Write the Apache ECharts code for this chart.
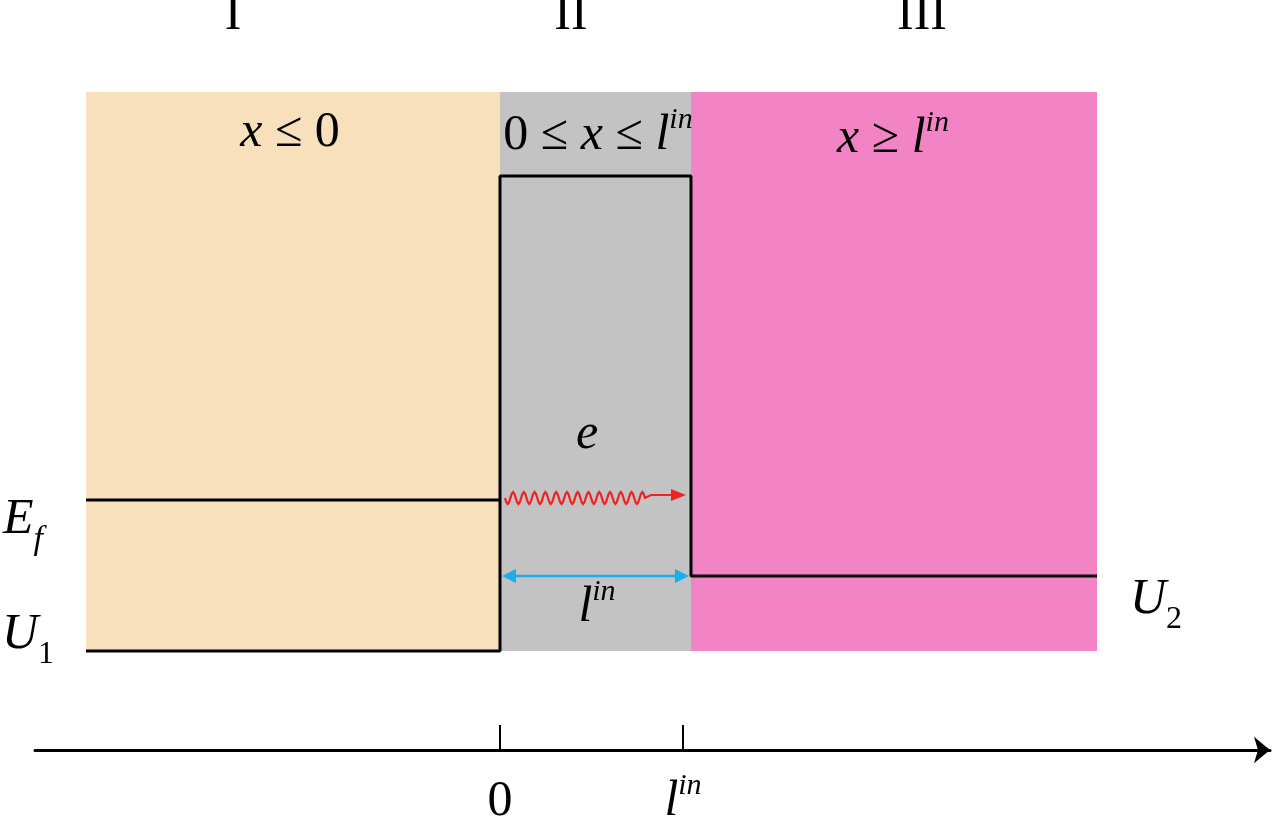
<!DOCTYPE html>
<html>
<head>
<meta charset="utf-8">
<script src="https://cdn.jsdelivr.net/npm/echarts@6/dist/echarts.min.js"></script>
<style>html,body{margin:0;padding:0;background:#fff;}#chart{width:1280px;height:827px;}</style>
</head>
<body>
<div id="chart"></div>
<script>
// ---- data (x: distance from the interface, y: energy, arbitrary units) ----
const regionNames = ['I', 'II', 'III'];
const regionStart = [-414, 0, 191];
const regionEnd = [0, 191, 597];
const regionBottom = 99;
const regionTop = 658;
const potentialLine = [[-414, 99], [0, 99], [0, 574], [191, 574], [191, 174], [597, 174]];
const fermiLine = [[-414, 250], [0, 250]];
const electronPath = [5, 145, 186, 253];   // wave start, wave end, arrow tip, level
const widthArrow = [2, 189, 174];          // from, to, level
const xTickValues = [0, 183];
const xTickLabels = ['{n|0}', '{i|l}{s|in}'];
const annotationText = ['{n|I}', '{n|II}', '{n|III}', '{i|x}{n| ≤ 0}', '{n|0 ≤ }{i|x}{n| ≤ }{i|l}{s|in}',
  '{i|x}{n| ≥ }{i|l}{s|in}', '{i|e}', '{it|E}{sub|f}', '{it|U}{subn|1}', '{it|U}{subn|2}', '{i|l}{s|in}'];
const annotationPos = [[-267, 737], [71, 737], [422, 737], [-210, 620], [98, 617], [393, 614],
  [87, 318], [-497, 224], [-498, 110], [630, 145], [97, 145]];
const annotationAlign = ['center', 'center', 'center', 'center', 'center', 'center', 'center', 'left', 'left', 'left', 'center'];

// ---- styles ----
const regionColors = ['#F8E0BC', '#C3C3C3', '#F283C4'];
const serif = 'Liberation Serif';
const ink = '#000';
const rich = {
  n: { fontFamily: serif, fontSize: 50, color: ink, verticalAlign: 'bottom', lineHeight: 56 },
  i: { fontFamily: serif, fontSize: 50, fontStyle: 'italic', color: ink, verticalAlign: 'bottom', lineHeight: 56 },
  it: { fontFamily: serif, fontSize: 50, fontStyle: 'italic', color: ink, verticalAlign: 'top', lineHeight: 56 },
  s: { fontFamily: serif, fontSize: 30, fontStyle: 'italic', color: ink, verticalAlign: 'top', lineHeight: 24 },
  sub: { fontFamily: serif, fontSize: 34, fontStyle: 'italic', color: ink, verticalAlign: 'bottom', lineHeight: 62 },
  subn: { fontFamily: serif, fontSize: 32, color: ink, verticalAlign: 'bottom', lineHeight: 61 }
};

const chart = echarts.init(document.getElementById('chart'), null, { renderer: 'canvas' });

const regionData = regionNames.map((n, k) => [regionStart[k], regionEnd[k], regionBottom, regionTop, k]);
const annotationData = annotationText.map((t, k) => ({
  value: annotationPos[k],
  label: { formatter: t, align: annotationAlign[k] }
}));

chart.setOption({
  animation: false,
  backgroundColor: '#fff',
  grid: { left: 35, right: 10, top: 0, bottom: 77, containLabel: false },
  xAxis: {
    type: 'value', min: -465, max: 770,
    splitLine: { show: false },
    axisLine: { show: true, onZero: false, lineStyle: { color: '#000', width: 3 },
      symbol: ['none', 'arrow'], symbolSize: [20, 16] },
    axisTick: { show: true, inside: true, length: 25, lineStyle: { color: '#000', width: 2 }, customValues: xTickValues },
    axisLabel: { show: true, margin: 21, customValues: xTickValues,
      formatter: v => xTickLabels[xTickValues.indexOf(v)], rich: rich }
  },
  yAxis: { type: 'value', min: 0, max: 750, show: false, splitLine: { show: false } },
  series: [
    {
      type: 'custom', name: 'regions', z: 1, clip: false,
      data: regionData,
      renderItem: (params, api) => {
        const p0 = api.coord([api.value(0), api.value(3)]);
        const p1 = api.coord([api.value(1), api.value(2)]);
        return { type: 'rect', shape: { x: p0[0], y: p0[1], width: p1[0] - p0[0], height: p1[1] - p0[1] },
          style: { fill: regionColors[api.value(4)] } };
      }
    },
    { type: 'line', name: 'potential', z: 3, data: potentialLine, showSymbol: false, symbol: 'none',
      lineStyle: { color: '#000', width: 3 } },
    { type: 'line', name: 'Ef', z: 3, data: fermiLine, showSymbol: false, symbol: 'none',
      lineStyle: { color: '#000', width: 3 } },
    {
      type: 'custom', name: 'electron', z: 4, clip: false,
      data: [electronPath],
      renderItem: (params, api) => {
        const y = api.value(3);
        const a = api.coord([api.value(0), y]);
        const b = api.coord([api.value(1), y]);
        const c = api.coord([api.value(2), y]);
        const pts = [];
        const periods = 13, amp = 6, steps = periods * 8;
        for (let k = 0; k <= steps; k++) {
          const px = a[0] + (b[0] - a[0]) * k / steps;
          pts.push([px, a[1] + 1 + amp * Math.sin(2 * Math.PI * k / 8)]);
        }
        pts.push([b[0] + 6, c[1] - 2]);
        pts.push([c[0] - 12, c[1] - 2]);
        return { type: 'group', children: [
          { type: 'polyline', shape: { points: pts }, style: { stroke: '#EE2222', lineWidth: 2.2, fill: null } },
          { type: 'polygon', shape: { points: [[c[0], c[1] - 2], [c[0] - 15, c[1] - 8], [c[0] - 15, c[1] + 4]] },
            style: { fill: '#EE2222' } }
        ] };
      }
    },
    {
      type: 'custom', name: 'width', z: 4, clip: false,
      data: [widthArrow],
      renderItem: (params, api) => {
        const a = api.coord([api.value(0), api.value(2)]);
        const b = api.coord([api.value(1), api.value(2)]);
        const col = '#1BAEE8';
        return { type: 'group', children: [
          { type: 'line', shape: { x1: a[0] + 8, y1: a[1], x2: b[0] - 8, y2: b[1] }, style: { stroke: col, lineWidth: 2.5 } },
          { type: 'polygon', shape: { points: [[a[0], a[1]], [a[0] + 14, a[1] - 7], [a[0] + 14, a[1] + 7]] }, style: { fill: col } },
          { type: 'polygon', shape: { points: [[b[0], b[1]], [b[0] - 14, b[1] - 7], [b[0] - 14, b[1] + 7]] }, style: { fill: col } }
        ] };
      }
    },
    {
      type: 'scatter', name: 'labels', z: 5, clip: false, symbolSize: 0, silent: true,
      itemStyle: { opacity: 1 },
      data: annotationData,
      label: { show: true, position: 'inside', color: ink, opacity: 1, rich: rich }
    }
  ]
});
</script>
</body>
</html>
